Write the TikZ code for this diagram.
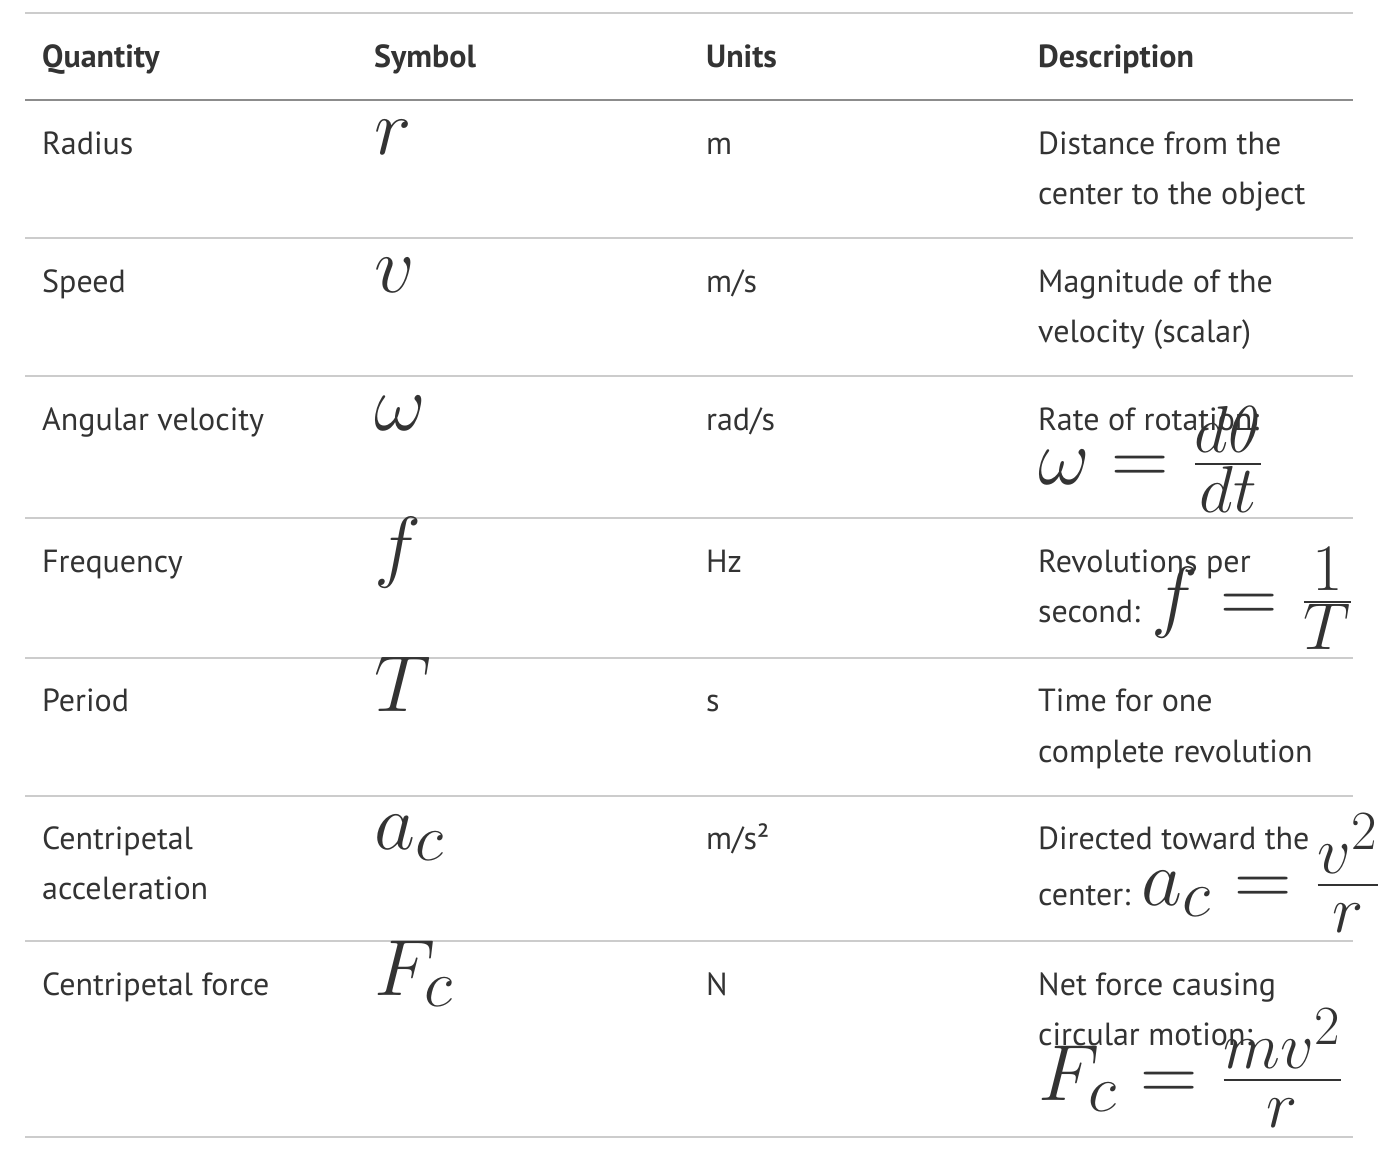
\documentclass[tikz,border=0pt]{standalone}
\usepackage{graphicx}
\usepackage{fontspec}
\setmainfont{PT Sans}
\newcommand{\mth}[1]{\scalebox{3.2}{$#1$}}
\begin{document}
\begin{tikzpicture}[x=1pt,y=-1pt,
  txt/.style={anchor=base west,inner sep=0pt,text=black!80,font=\fontsize{32}{38}\selectfont},
  hd/.style={txt,font=\fontsize{32}{38}\selectfont\bfseries},
  sep/.style={draw=black!20,line width=1.5pt}]
\useasboundingbox (0,0) rectangle (1386,1162);
\draw[sep] (25,13) -- (1353,13);
\draw[draw=black!45,line width=2pt] (25,100) -- (1353,100);
\foreach \y in {238,376,518,658,796,941,1137} \draw[sep] (25,\y) -- (1353,\y);
\node[hd] (h1) at (42,67) {Quantity};
\node[hd] (h2) at (374,67) {Symbol};
\node[hd] (h3) at (706,67) {Units};
\node[hd] (h4) at (1038,67) {Description};
% row 1
\node[txt] (a1) at (42,154) {Radius};
\node[txt] (b1) at (374,154) {\mth{r}};
\node[txt] (c1) at (706,154) {m};
\node[txt] (d1) at (1038,154) {Distance from the};
\node[txt] (e1) at (1038,204) {center to the object};
% row 2
\node[txt] (a2) at (42,292) {Speed};
\node[txt] (b2) at (374,292) {\mth{v}};
\node[txt] (c2) at (706,292) {m/s};
\node[txt] (d2) at (1038,292) {Magnitude of the};
\node[txt] (e2) at (1038,342) {velocity (scalar)};
% row 3
\node[txt] (a3) at (42,430) {Angular velocity};
\node[txt] (b3) at (374,430) {\mth{\omega}};
\node[txt] (c3) at (706,430) {rad/s};
\node[txt] (d3) at (1038,430) {Rate of rotation:};
\node[txt] (e3) at (1038,484) {\mth{\omega=\frac{d\theta}{dt}}};
% row 4
\node[txt] (a4) at (42,572) {Frequency};
\node[txt] (b4) at (374,572) {\mth{f}};
\node[txt] (c4) at (706,572) {Hz};
\node[txt] (d4) at (1038,572) {Revolutions per};
\node[txt] (e4) at (1038,622) {second: \mth{f=\frac{1}{T}}};
% row 5
\node[txt] (a5) at (42,711) {Period};
\node[txt] (b5) at (374,711) {\mth{T}};
\node[txt] (c5) at (706,711) {s};
\node[txt] (d5) at (1038,711) {Time for one};
\node[txt] (e5) at (1038,762) {complete revolution};
% row 6
\node[txt] (a6) at (42,849) {Centripetal};
\node[txt] (a6b) at (42,899) {acceleration};
\node[txt] (b6) at (374,849) {\mth{a_c}};
\node[txt] (c6) at (706,849) {m/s²};
\node[txt] (d6) at (1038,849) {Directed toward the};
\node[txt] (e6) at (1038,905) {center: \mth{a_c=\frac{v^2}{r}}};
% row 7
\node[txt] (a7) at (42,995) {Centripetal force};
\node[txt] (b7) at (374,995) {\mth{F_c}};
\node[txt] (c7) at (706,995) {N};
\node[txt] (d7) at (1038,995) {Net force causing};
\node[txt] (e7) at (1038,1045) {circular motion:};
\node[txt] (f7) at (1038,1100) {\mth{F_c=\frac{mv^2}{r}}};
\end{tikzpicture}
\end{document}
